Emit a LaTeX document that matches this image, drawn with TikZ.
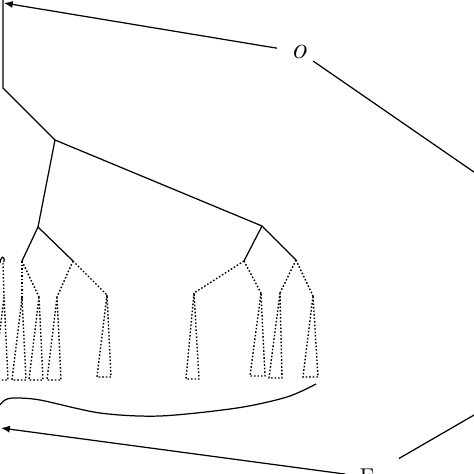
\documentclass[tikz,border=0pt]{standalone}
\usepackage{amsmath,amssymb}
\usetikzlibrary{arrows.meta}
\tikzset{
  edge/.style={line width=0.7pt},
  leaf/.style={line width=0.8pt, dash pattern=on 0.9pt off 1.1pt},
  pointer/.style={line width=0.7pt, -{Latex[length=5pt,width=4pt]}},
  lab/.style={font=\fontsize{13}{15}\selectfont, inner sep=0pt}
}
\begin{document}
\begin{tikzpicture}[x=0.02cm,y=-0.02cm]
\useasboundingbox (0,0) rectangle (474,474);

% labels
\node[lab, font=\fontsize{17}{20}\selectfont] (o) at (300,52) {$o$};
\node[lab] (F) at (367,477) {F};
\coordinate (otop) at (4,3);
\coordinate (fbot) at (1,428);
\coordinate (oout) at (500,190);
\coordinate (fout) at (500,400);

% tree
\coordinate (top) at (3,0);
\coordinate (r0) at (3,88);
\coordinate (n) at (55,140);
\coordinate (L) at (38,227);
\coordinate (R) at (262,226);
\coordinate (a) at (22,261);
\coordinate (b) at (73,261);
\coordinate (c) at (244,261);
\coordinate (d) at (296,260);

\coordinate (t0) at (4,297);
\coordinate (t1) at (22,298);
\coordinate (t2) at (39,297);
\coordinate (t3) at (57,297);
\coordinate (t4) at (107,295);
\coordinate (t5) at (194,293);
\coordinate (t6) at (261,293);
\coordinate (t7) at (280,293);
\coordinate (t8) at (313,296);

\draw [edge] (top)--(r0)--(n);
\draw [edge] (n)--(L);
\draw [edge] (n)--(R);
\draw [edge] (L)--(a);
\draw [edge] (L)--(b);
\draw [edge] (R)--(c);
\draw [edge] (R)--(d);

\draw [leaf] (a)--(t1);
\draw [leaf] (a)--(t2);
\draw [leaf] (b)--(t3);
\draw [leaf] (b)--(t4);
\draw [leaf] (c)--(t5);
\draw [leaf] (c)--(t6);
\draw [leaf] (d)--(t7);
\draw [leaf] (d)--(t8);

% left edge, cut
\draw [edge] (0,263) .. controls (0.5,256) and (5,255) .. (4,262);
\draw [leaf] (3,263)--(t0);
\draw [leaf] (t0)--(-6,380)--(8,380)--cycle;

% subtrees
\draw [leaf] (t1)--(12,380)--(26,380)--cycle;
\draw [leaf] (t2)--(29,380)--(43,380)--cycle;
\draw [leaf] (t3)--(47,380)--(61,380)--cycle;
\draw [leaf] (t4)--(97,377)--(111,377)--cycle;
\draw [leaf] (t5)--(186,379)--(199,379)--cycle;
\draw [leaf] (t6)--(250,376)--(265,376)--cycle;
\draw [leaf] (t7)--(269,378)--(282,378)--cycle;
\draw [leaf] (t8)--(303,377)--(318,377)--cycle;

% brace under the leaves
\draw [edge] plot[smooth] coordinates {(0,405) (5,400) (14,398) (40,400) (100,413) (160,416) (237,408) (287,397) (316,384)};

% pointers
\draw [pointer, shorten <=9pt] (o)--(otop);
\draw [edge, shorten <=4pt] (o)--(oout);
\draw [pointer, shorten <=8pt] (F)--(fbot);
\draw [edge, shorten <=16pt] (F)--(fout);

\end{tikzpicture}
\end{document}
